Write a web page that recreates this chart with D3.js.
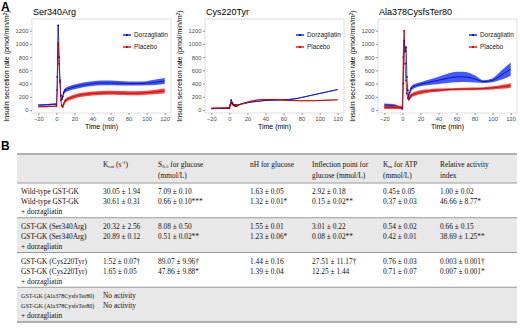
<!DOCTYPE html>
<html>
<head>
<meta charset="utf-8">
<script src="https://cdn.jsdelivr.net/npm/d3@7"></script>
<style>
  body { margin: 0; background: #fff; }
  svg { display: block; }
</style>
</head>
<body>
<div id="chart"></div>
<script>
// Panel A data: sampling times and mean / band half-width per arm
const times = [-20, -10, -5, 0, 1, 2, 3, 4, 5, 6, 7, 8, 10, 15, 20, 30, 40, 50, 60, 70, 80, 90, 100, 110, 120];
const panelNames = ["Ser340Arg", "Cys220Tyr", "Ala378CysfsTer80"];
const seriesNames = ["Dorzagliatin", "Placebo"];

const serDorMean = [75, 80, 85, 90, 500, 1280, 800, 450, 220, 160, 200, 260, 300, 330, 350, 380, 400, 410, 410, 405, 400, 400, 405, 420, 440];
const serDorSe = [12, 12, 12, 12, 20, 20, 20, 20, 20, 25, 30, 35, 35, 35, 35, 35, 35, 35, 35, 33, 30, 30, 32, 40, 45];
const serPlaMean = [50, 52, 55, 60, 300, 1010, 700, 420, 150, 70, 50, 90, 140, 180, 205, 235, 250, 258, 260, 258, 255, 255, 262, 275, 290];
const serPlaSe = [10, 10, 10, 10, 20, 20, 20, 20, 20, 20, 25, 30, 30, 30, 30, 30, 30, 30, 30, 30, 30, 30, 30, 32, 35];

const cysDorMean = [20, 22, 24, 25, 80, 150, 110, 90, 80, 75, 72, 70, 80, 95, 110, 130, 145, 150, 155, 165, 190, 220, 250, 280, 310];
const cysDorSe = [8, 8, 8, 8, 8, 8, 8, 8, 8, 8, 8, 8, 8, 8, 8, 8, 8, 8, 8, 8, 8, 8, 8, 8, 8];
const cysPlaMean = [30, 32, 34, 35, 70, 110, 95, 80, 70, 62, 58, 60, 75, 100, 120, 150, 160, 158, 150, 145, 140, 140, 145, 150, 155];
const cysPlaSe = [8, 8, 8, 8, 8, 8, 8, 8, 8, 8, 8, 8, 8, 8, 8, 8, 8, 8, 8, 8, 8, 8, 8, 8, 8];

const alaDorMean = [75, 65, 50, 20, 400, 1050, 880, 950, 500, 300, 200, 260, 330, 370, 390, 420, 450, 480, 500, 500, 470, 430, 450, 530, 620];
const alaDorSe = [25, 25, 20, 15, 20, 20, 20, 20, 20, 25, 30, 30, 35, 30, 30, 40, 55, 70, 80, 75, 55, 20, 30, 70, 100];
const alaPlaMean = [40, 40, 40, 40, 800, 1200, 700, 450, 250, 180, 160, 180, 220, 250, 270, 290, 300, 310, 315, 318, 320, 325, 335, 350, 370];
const alaPlaSe = [25, 25, 25, 25, 20, 20, 20, 20, 20, 20, 20, 25, 30, 30, 30, 25, 25, 20, 20, 20, 20, 20, 25, 30, 35];

const xTicks = [-20, 0, 20, 40, 60, 80, 100, 120];
const yTicks = [0, 200, 400, 600, 800, 1000, 1200];

// Panel B data
const colHeaders = [
  [["K", ""], ["cat", "sub"], [" (s", ""], ["-1", "sup"], [")", ""]],
  [["S", ""], ["0.5", "sub"], [" for glucose", ""]],
  [["nH for glucose", ""]],
  [["Inflection point for", ""]],
  [["K", ""], ["m", "sub"], [" for ATP", ""]],
  [["Relative activity", ""]]
];
const colHeaders2 = ["", "(mmol/L)", "", "glucose (mmol/L)", "(mmol/L)", "index"];
const rowLabels = [
  ["Wild-type GST-GK"], ["Wild-type GST-GK", "+ dorzagliatin"],
  ["GST-GK (Ser340Arg)"], ["GST-GK (Ser340Arg)", "+ dorzagliatin"],
  ["GST-GK (Cys220Tyr)"], ["GST-GK (Cys220Tyr)", "+ dorzagliatin"],
  ["GST-GK (Ala378CysfsTer80)"], ["GST-GK (Ala378CysfsTer80)", "+ dorzagliatin"]
];
const rowValues = [
  ["30.05 ± 1.94", "7.09 ± 0.10", "1.63 ± 0.05", "2.92 ± 0.18", "0.45± 0.05", "1.00 ± 0.02"],
  ["30.61 ± 0.31", "0.66 ± 0.10***", "1.32 ± 0.01*", "0.15 ± 0.02**", "0.37 ± 0.03", "46.66 ± 8.77*"],
  ["20.32 ± 2.56", "8.08 ± 0.50", "1.55 ± 0.01", "3.01 ± 0.22", "0.54 ± 0.02", "0.66 ± 0.15"],
  ["20.89 ± 0.12", "0.51 ± 0.02**", "1.23 ± 0.06*", "0.08 ± 0.02**", "0.42 ± 0.01", "38.69 ± 1.25**"],
  ["1.52 ± 0.07†", "89.07 ± 9.96†", "1.44 ± 0.16", "27.51 ± 11.17†", "0.76 ± 0.03", "0.003 ± 0.001†"],
  ["1.65 ± 0.05", "47.86 ± 9.88*", "1.39 ± 0.04", "12.25 ± 1.44", "0.71 ± 0.07", "0.007 ± 0.001*"],
  ["No activity", "", "", "", "", ""],
  ["No activity", "", "", "", "", ""]
];

const panelSeries = [
  [[serDorMean, serDorSe], [serPlaMean, serPlaSe]],
  [[cysDorMean, cysDorSe], [cysPlaMean, cysPlaSe]],
  [[alaDorMean, alaDorSe], [alaPlaMean, alaPlaSe]]
];
const bandColors = ["#1f3dff", "#ff2222"];
const lineColors = ["#0000b0", "#b00000"];

const svg = d3.select("#chart").append("svg")
  .attr("width", 520).attr("height", 333);

const sans = "Liberation Sans, Arial, sans-serif";
const serif = "Liberation Serif, Times New Roman, serif";

svg.append("text").attr("x", 1).attr("y", 11)
  .attr("font-family", sans).attr("font-weight", "bold").attr("font-size", 12)
  .text("A");

const plotTop = 19, plotBottom = 113, plotW = 139;

panelNames.forEach((name, i) => {
  const left = 32 + i * 173;
  const x = d3.scaleLinear().domain([-27, 127]).range([left, left + plotW]);
  const y = d3.scaleLinear().domain([-45, 1377]).range([plotBottom, plotTop]);

  const g = svg.append("g");

  g.append("rect")
    .attr("x", left).attr("y", plotTop)
    .attr("width", plotW).attr("height", plotBottom - plotTop)
    .attr("fill", "#fff").attr("stroke", "#d6d6d6").attr("stroke-width", 0.8);

  panelSeries[i].forEach(([mean, se], s) => {
    const pts = times.map((t, k) => ({ t, m: mean[k], se: se[k] }));
    const area = d3.area()
      .x(d => x(d.t))
      .y0(d => y(d.m - d.se))
      .y1(d => y(d.m + d.se))
      .curve(d3.curveMonotoneX);
    const line = d3.line()
      .x(d => x(d.t))
      .y(d => y(d.m))
      .curve(d3.curveMonotoneX);

    g.append("path").attr("d", area(pts))
      .attr("fill", bandColors[s]).attr("opacity", 0.85);
    g.append("path").attr("d", line(pts))
      .attr("fill", "none").attr("stroke", lineColors[s]).attr("stroke-width", 0.8);
    g.selectAll(null).data(pts.filter(d => d.t >= 0 && d.t <= 10)).enter()
      .append("circle")
      .attr("cx", d => x(d.t)).attr("cy", d => y(d.m))
      .attr("r", 0.9).attr("fill", lineColors[s]);
  });

  // axes
  const xAxis = g.append("g")
    .attr("transform", `translate(0,${plotBottom})`)
    .call(d3.axisBottom(x).tickValues(xTicks).tickSize(2).tickPadding(1.5).tickFormat(d3.format("d")));
  const yAxis = g.append("g")
    .attr("transform", `translate(${left},0)`)
    .call(d3.axisLeft(y).tickValues(yTicks).tickSize(2).tickPadding(1.5).tickFormat(d3.format("d")));
  [xAxis, yAxis].forEach(a => {
    a.select(".domain").remove();
    a.selectAll("line").attr("stroke", "#555").attr("stroke-width", 0.6);
    a.selectAll("text").attr("fill", "#4d4d4d").attr("font-size", 5.8).attr("font-family", sans);
  });

  g.append("text")
    .attr("x", left + 1).attr("y", 15)
    .attr("font-family", sans).attr("font-size", 9).attr("fill", "#000")
    .text(name);

  g.append("text")
    .attr("x", left + plotW / 2).attr("y", 129)
    .attr("text-anchor", "middle")
    .attr("font-family", sans).attr("font-size", 7).attr("fill", "#000")
    .text("Time (min)");

  const yt = g.append("text")
    .attr("transform", `translate(${left - 23},${(plotTop + plotBottom) / 2}) rotate(-90)`)
    .attr("text-anchor", "middle")
    .attr("font-family", sans).attr("font-size", 7.1).attr("fill", "#000");
  yt.append("tspan").text("Insulin secretion rate (pmol/min/m");
  yt.append("tspan").attr("dy", -2).attr("font-size", 4.6).text("2");
  yt.append("tspan").attr("dy", 2).text(")");

  // legend
  seriesNames.forEach((sn, s) => {
    const ly = 35 + s * 12;
    g.append("line")
      .attr("x1", left + 91).attr("x2", left + 99)
      .attr("y1", ly).attr("y2", ly)
      .attr("stroke", bandColors[s]).attr("stroke-width", 1.6);
    g.append("circle").attr("cx", left + 95).attr("cy", ly).attr("r", 1)
      .attr("fill", lineColors[s]);
    g.append("text")
      .attr("x", left + 102).attr("y", ly).attr("dy", "0.35em")
      .attr("font-family", sans).attr("font-size", 6.4).attr("fill", "#222")
      .text(sn);
  });
});

// Panel B table
svg.append("text").attr("x", 1).attr("y", 150)
  .attr("font-family", sans).attr("font-weight", "bold").attr("font-size", 12)
  .text("B");

const tLeft = 17, tRight = 517;
const headTop = 154, headBottom = 183, tBottom = 322;
const colX = [21, 103, 158, 250, 312, 383, 440];
const groupH = (tBottom - headBottom) / 4;
const fs = 7.4;
const tg = svg.append("g").attr("font-family", serif).attr("font-size", fs).attr("fill", "#111");

tg.append("rect").attr("x", tLeft).attr("y", headTop)
  .attr("width", tRight - tLeft).attr("height", headBottom - headTop).attr("fill", "#e8e8e8");
[1, 3].forEach(gi => {
  tg.append("rect").attr("x", tLeft).attr("y", headBottom + gi * groupH)
    .attr("width", tRight - tLeft).attr("height", groupH).attr("fill", "#e8e8e8");
});

// header: sub/superscripts done with dy shifts, returning to the baseline after
colHeaders.forEach((parts, c) => {
  const t = tg.append("text").attr("x", colX[c + 1]).attr("y", 166.5);
  let shift = 0;
  parts.forEach(([txt, kind]) => {
    const target = kind === "sub" ? 1.6 : kind === "sup" ? -2.6 : 0;
    const sp = t.append("tspan").attr("dy", target - shift).text(txt);
    if (kind) sp.attr("font-size", fs * 0.68);
    shift = target;
  });
  tg.append("text").attr("x", colX[c + 1]).attr("y", 175).attr("dy", "0.35em")
    .text(colHeaders2[c]);
});

rowLabels.forEach((lab, r) => {
  const gi = Math.floor(r / 2);
  const rowY = headBottom + gi * groupH + 8.5 + (r % 2) * 10;
  lab.forEach((l, k) => {
    // the long Ala378CysfsTer80 label is set a little smaller to clear the next column
    tg.append("text").attr("x", colX[0]).attr("y", rowY + k * 10).attr("dy", "0.35em")
      .attr("font-size", l.length > 20 ? 6.1 : fs)
      .text(l);
  });
  rowValues[r].forEach((v, c) => {
    if (v) tg.append("text").attr("x", colX[c + 1]).attr("y", rowY).attr("dy", "0.35em").text(v);
  });
});

const lineYs = [headTop, headBottom, headBottom + groupH, headBottom + 2 * groupH, headBottom + 3 * groupH, tBottom];
lineYs.forEach((ly, k) => {
  tg.append("line").attr("x1", tLeft).attr("x2", tRight)
    .attr("y1", ly).attr("y2", ly)
    .attr("stroke", "#9a9a9a").attr("stroke-width", k === 0 || k === lineYs.length - 1 ? 1.5 : 1);
});
</script>
</body>
</html>
